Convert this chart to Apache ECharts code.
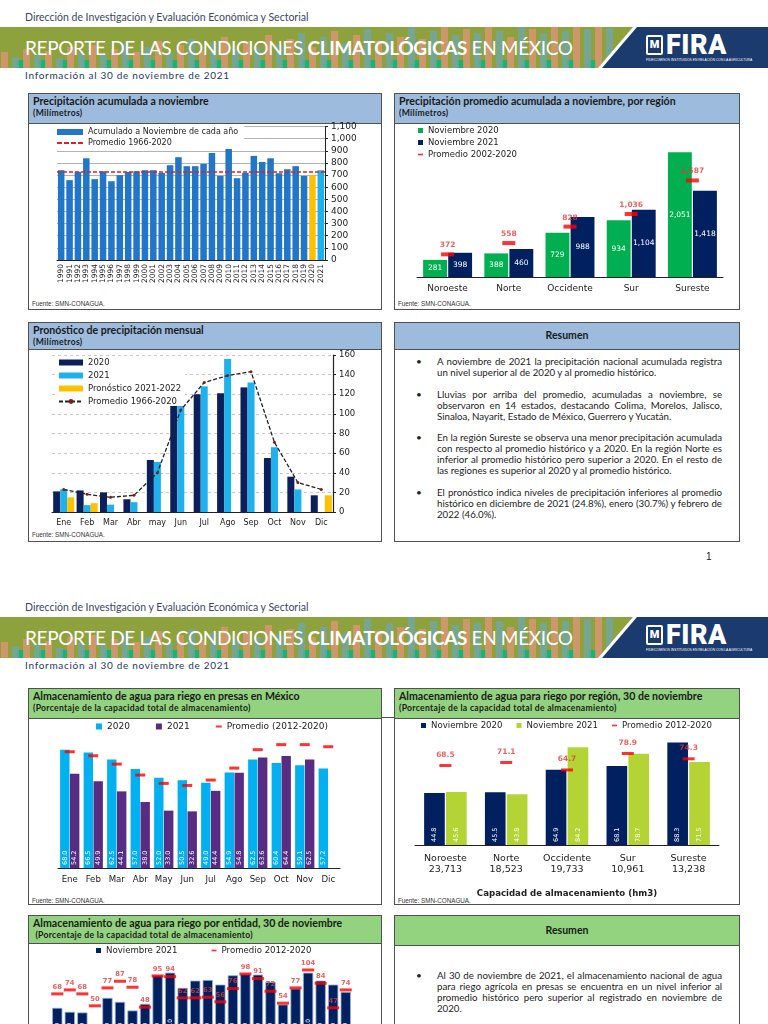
<!DOCTYPE html>
<html><head><meta charset="utf-8">
<script src="https://cdn.jsdelivr.net/npm/echarts@6/dist/echarts.min.js"></script>
<style>
html,body{margin:0;padding:0;width:768px;height:1024px;overflow:hidden;background:#fff;font-family:Lato,"Open Sans",sans-serif;color:#1a1a1a;}
.a{position:absolute;}
.dir{position:absolute;left:25px;font-size:10.5px;line-height:14px;color:#3b4763;white-space:nowrap;}
.info{position:absolute;left:25px;font-size:10px;line-height:13px;color:#1F3864;letter-spacing:0.7px;white-space:nowrap;}
.banner{position:absolute;left:0;width:768px;height:41px;background:#8DA13C;overflow:hidden;}
.btitle{position:absolute;left:25px;top:0;line-height:41px;font-size:19px;color:#fff;white-space:nowrap;letter-spacing:-0.35px;}
.panel{position:absolute;box-sizing:border-box;border:1.5px solid #505050;background:#fff;}
.ph{position:absolute;left:0;top:0;right:0;box-sizing:border-box;border-bottom:1.2px solid #505050;}
.blue{background:#9CBBDD;}
.green{background:#93D27F;}
.pt{position:absolute;left:4px;top:1px;font-size:10.6px;font-weight:bold;line-height:13px;white-space:nowrap;}
.ps{position:absolute;left:4px;top:14px;font-size:8.6px;font-weight:bold;line-height:11px;white-space:nowrap;letter-spacing:0.3px;}
.rt{position:absolute;left:0;right:0;text-align:center;font-size:10.5px;font-weight:bold;}
.fuente{position:absolute;font-family:"Liberation Sans",Arial,sans-serif;font-size:6.3px;color:#333;white-space:nowrap;}
.res{position:absolute;width:285px;}
.res ul{list-style:none;margin:0;padding:0;}
.res li{position:relative;margin:0 0 10.5px 0;text-align:justify;font-size:9.7px;line-height:11px;color:#222;}
.res li::before{content:'•';position:absolute;left:-21px;top:0;font-size:10px;}
.chart{position:absolute;}
</style>
</head><body>
<script>
// ---------------- DATA ----------------
const years = ['1990','1991','1992','1993','1994','1995','1996','1997','1998','1999','2000','2001','2002','2003','2004','2005','2006','2007','2008','2009','2010','2011','2012','2013','2014','2015','2016','2017','2018','2019','2020','2021'];
const acumNov = [740,658,726,838,666,731,649,699,726,731,740,740,718,781,847,773,773,792,882,693,951,674,718,858,808,838,715,748,773,693,699,740];
const promedio1966 = 731;

const regiones = ['Noroeste','Norte','Occidente','Sur','Sureste'];
const prec2020 = [281,388,729,934,2051];
const prec2021 = [398,460,988,1104,1418];
const prom0220 = [372,558,828,1036,1587];

const meses = ['Ene','Feb','Mar','Abr','may','Jun','Jul','Ago','Sep','Oct','Nov','Dic'];
const mens2020 = [21,22,20,13,53,108,120,121,127,55,36,17];
const mens2021 = [23,7,7.5,10,51,136,128,156,132,66,23,null];
const pronostico = [15,9,null,null,null,null,null,null,null,null,null,17];
const promMens = [23,18,15,17,40,104,132,139,143,71,30,23];

const mesesAlm = ['Ene','Feb','Mar','Abr','May','Jun','Jul','Ago','Sep','Oct','Nov','Dic'];
const alm2020 = [68.0,66.5,62.5,57.0,52.0,50.5,49.0,54.9,62.5,60.4,59.1,57.2];
const alm2021 = [54.2,49.9,44.1,38.0,33.0,32.6,44.4,54.8,63.6,64.4,62.5,null];
const almProm = [66.9,64.6,59.8,53.5,48.7,47.5,50.6,57.5,68.1,71.0,71.0,69.8];

const regionesAlm = ['Noroeste','Norte','Occidente','Sur','Sureste'];
const capacidad = ['23,713','18,523','19,733','10,961','13,238'];
const almReg2020 = [44.8,45.5,64.9,68.1,88.3];
const almReg2021 = [45.6,43.8,84.2,78.7,71.5];
const almRegProm = [68.5,71.1,64.7,78.9,74.3];

const entidades = ['Ags','BC','BCS','Camp','Chih','Coah','Col','Dgo','Gto','Gro','Hgo','Jal','Méx','Mich','Mor','Nay','NL','Oax','Pue','Qro','SLP','Sin','Son','Tamps'];
const ent2021 = [47,41,40,18,62,56,43,53,96,100,77,88,89,82,96,98,97,86,52,76,100,88,82,71];
const entProm = [68,74,68,50,77,87,78,48,95,94,62,62,63,56,76,98,91,72,54,77,104,84,47,74];

// decorative banner pattern (not chart data)
const decoH = [16,11,19,13,17,10,21,15,23,13,19,25,16,21,27,15,23,29,17,25,31,19,27,21,33,23,29,35,21,31,37,25,33,39,27,35,31,41,29,37,41,33,39,35,41,37,31,41,39,35,41,37,41,39,41,40];
</script>

<script>
function el(tag, cls, css, html){const e=document.createElement(tag); if(cls) e.className=cls; if(css) Object.assign(e.style,css); if(html!==undefined) e.innerHTML=html; document.body.appendChild(e); return e;}
function header(bt){
  el('div','dir',{top:(bt-17)+'px'},'Dirección de Investigación y Evaluación Económica y Sectorial');
  const b = el('div','banner',{top:bt+'px'});
  const cols=['#E8937C','#6CA7B6'];
  decoH.forEach((h,i)=>{
    const d=document.createElement('div');
    Object.assign(d.style,{position:'absolute',left:(i*11+1)+'px',bottom:'0px',width:'7px',height:h+'px',background:cols[i%2],opacity:'0.7'});
    b.appendChild(d);
    if(i%2===0){const g=document.createElement('div');Object.assign(g.style,{position:'absolute',left:(i*11+17)+'px',bottom:'0px',width:'7px',height:'8px',background:'#1DB36B'});b.appendChild(g);}
  });
  const t=document.createElement('div'); t.className='btitle';
  t.innerHTML='REPORTE DE LAS CONDICIONES <b>CLIMATOLÓGICAS</b> EN MÉXICO';
  b.appendChild(t);
  const w=document.createElement('div');
  Object.assign(w.style,{position:'absolute',left:'0',top:'0',width:'768px',height:'41px',background:'#ffffff',clipPath:'polygon(633px 0,768px 0,768px 41px,598px 41px)'});
  b.appendChild(w);
  const n=document.createElement('div');
  Object.assign(n.style,{position:'absolute',left:'0',top:'0',width:'768px',height:'41px',background:'#1B3A6D',clipPath:'polygon(637px 0,768px 0,768px 41px,602px 41px)'});
  b.appendChild(n);
  const ic=document.createElement('div');
  Object.assign(ic.style,{position:'absolute',left:'646px',top:'8px',width:'17px',height:'20px',border:'2px solid #fff',boxSizing:'border-box',borderRadius:'2px',color:'#fff',fontSize:'11px',fontWeight:'900',lineHeight:'15px',textAlign:'center',fontFamily:'Roboto,Arial'});
  ic.textContent='M'; b.appendChild(ic);
  const f=document.createElement('div');
  Object.assign(f.style,{position:'absolute',left:'666px',top:'3px',color:'#fff',fontSize:'27px',fontWeight:'900',lineHeight:'30px',fontFamily:'Roboto,"Liberation Sans",Arial',letterSpacing:'0.5px'});
  f.textContent='FIRA'; b.appendChild(f);
  const s=document.createElement('div');
  Object.assign(s.style,{position:'absolute',left:'646px',top:'31px',color:'#fff',fontSize:'3.3px',lineHeight:'4px',whiteSpace:'nowrap',fontFamily:'Arial'});
  s.textContent='FIDEICOMISOS INSTITUIDOS EN RELACIÓN CON LA AGRICULTURA'; b.appendChild(s);
  el('div','info',{top:(bt+42)+'px'},'Información al 30 de noviembre de 2021');
}
function panel(x,y,w,h,hh,color,title,sub){
  const p=el('div','panel',{left:x+'px',top:y+'px',width:w+'px',height:h+'px'});
  const ph=document.createElement('div'); ph.className='ph '+color; ph.style.height=hh+'px';
  if(sub!==undefined){ph.innerHTML='<div class="pt">'+title+'</div><div class="ps">'+sub+'</div>';}
  else {ph.innerHTML='<div class="rt" style="line-height:'+(hh-2)+'px">'+title+'</div>';}
  p.appendChild(ph);
  return p;
}
header(27);
header(617);
panel(28,93,354,217,30,'blue','Precipitación acumulada a noviembre','(Milímetros)');
panel(394,93,346,217,30,'blue','Precipitación promedio acumulada a noviembre, por región','(Milímetros)');
panel(28,322,354,220,27,'blue','Pronóstico de precipitación mensual','(Milímetros)');
panel(394,322,346,220,27,'blue','Resumen');
panel(28,688,354,217,30,'green','Almacenamiento de agua para riego en presas en México','(Porcentaje de la capacidad total de almacenamiento)');
panel(394,688,346,217,30,'green','Almacenamiento de agua para riego por región, 30 de noviembre','(Porcentaje de la capacidad total de almacenamiento)');
panel(28,915,354,200,28,'green','Almacenamiento de agua para riego por entidad, 30 de noviembre','&nbsp;(Porcentaje de la capacidad total de almacenamiento)');
panel(394,915,346,200,30,'green','Resumen');
el('div','a',{left:'382px',top:'717px',width:'12px',height:'1px',background:'#505050'});

el('div','fuente',{left:'32px',top:'300px'},'Fuente: SMN-CONAGUA.');
el('div','fuente',{left:'398px',top:'300px'},'Fuente: SMN-CONAGUA.');
el('div','fuente',{left:'32px',top:'531px'},'Fuente: SMN-CONAGUA.');
el('div','fuente',{left:'32px',top:'897px'},'Fuente: SMN-CONAGUA.');
el('div','fuente',{left:'398px',top:'897px'},'Fuente: SMN-CONAGUA.');
el('div','a',{left:'706px',top:'551px',fontSize:'10px',fontFamily:'"Liberation Sans",Arial'},'1');

el('div','res',{left:'437px',top:'356px'},'<ul>'+
'<li>A noviembre de 2021 la precipitación nacional acumulada registra un nivel superior al de 2020 y al promedio histórico.</li>'+
'<li>Lluvias por arriba del promedio, acumuladas a noviembre, se observaron en 14 estados, destacando Colima, Morelos, Jalisco, Sinaloa, Nayarit, Estado de México, Guerrero y Yucatán.</li>'+
'<li>En la región Sureste se observa una menor precipitación acumulada con respecto al promedio histórico y a 2020. En la región Norte es inferior al promedio histórico pero superior a 2020. En el resto de las regiones es superior al 2020 y al promedio histórico.</li>'+
'<li>El pronóstico indica niveles de precipitación inferiores al promedio histórico en diciembre de 2021 (24.8%), enero (30.7%) y febrero de 2022 (46.0%).</li></ul>');
el('div','res',{left:'437px',top:'970px'},'<ul>'+
'<li>Al 30 de noviembre de 2021, el almacenamiento nacional de agua para riego agrícola en presas se encuentra en un nivel inferior al promedio histórico pero superior al registrado en noviembre de 2020.</li>'+
'<li>En la región Occidente se registra el mayor nivel de almacenamiento, con 84.2% de su capacidad.</li></ul>');

function chartDiv(x,y,w,h){return el('div','chart',{left:x+'px',top:y+'px',width:w+'px',height:h+'px'});}
const FF='DejaVu Sans';
const fmtC = v => (v==null?'':Number(v).toLocaleString('en-US'));
const dashIcon='path://M0,0h5v2h-5z M7,0h5v2h-5z M14,0h5v2h-5z M21,0h5v2h-5z';
const redDash='path://M0,0h9v3h-9z';

// ---- Chart A ----
echarts.init(chartDiv(28,122,354,188)).setOption({
  animation:false,
  grid:{left:29,right:57,top:4,bottom:50},
  legend:{orient:'vertical',left:29,top:4,itemGap:3,backgroundColor:'#fff',padding:[2,6,2,0],
    textStyle:{fontFamily:FF,fontSize:8,color:'#222'},itemWidth:26,itemHeight:6,
    data:[{name:'Acumulado a Noviembre de cada año',icon:'rect',itemStyle:{color:'#2176C7'}},
          {name:'Promedio 1966-2020',icon:dashIcon,itemStyle:{color:'#E02020'}}]},
  xAxis:{type:'category',data:years,axisLine:{lineStyle:{color:'#222'}},axisTick:{length:3,interval:0,lineStyle:{color:'#222'}},
    axisLabel:{rotate:90,interval:0,fontFamily:FF,fontSize:7.5,color:'#222',margin:4}},
  yAxis:{type:'value',position:'right',min:0,max:1100,interval:100,
    axisLine:{show:true,lineStyle:{color:'#222'}},axisTick:{show:true,length:3,lineStyle:{color:'#222'}},
    axisLabel:{fontFamily:FF,fontSize:9,color:'#222',margin:6,formatter:fmtC},
    splitLine:{lineStyle:{color:'#b3b3b3'}}},
  series:[
    {type:'bar',name:'Acumulado a Noviembre de cada año',barCategoryGap:'22%',
     data:acumNov.map((v,i)=>({value:v,itemStyle:{color:years[i]==='2020'?'#FFC000':(years[i]==='2021'?'#1FB1EC':'#2176C7')}})),
     markLine:{silent:true,symbol:'none',label:{show:false},lineStyle:{type:[4,2],color:'#E02020',width:1.5},data:[{yAxis:promedio1966}]}},
    {type:'line',name:'Promedio 1966-2020',data:[],itemStyle:{color:'#E02020'}}
  ]
});

// ---- Chart B ----
echarts.init(chartDiv(394,122,346,188)).setOption({
  animation:false,
  grid:{left:23,right:17,top:9,bottom:33},
  legend:{orient:'vertical',left:24,top:4,itemGap:3,itemWidth:5,itemHeight:5,padding:0,
    textStyle:{fontFamily:FF,fontSize:8.5,color:'#222'},
    data:[{name:'Noviembre 2020',icon:'rect'},{name:'Noviembre 2021',icon:'rect'},{name:'Promedio 2002-2020',icon:redDash}]},
  xAxis:{type:'category',data:regiones,axisLine:{lineStyle:{color:'#222'}},axisTick:{length:3,lineStyle:{color:'#222'}},
    axisLabel:{interval:0,fontFamily:FF,fontSize:9,color:'#222',margin:7}},
  yAxis:{type:'value',min:0,max:2400,show:false,splitLine:{show:false}},
  series:[
    {type:'bar',name:'Noviembre 2020',data:prec2020,barGap:'5%',barCategoryGap:'20%',itemStyle:{color:'#00B050'},
     label:{show:true,position:'inside',color:'#fff',fontFamily:FF,fontSize:7.5,formatter:p=>fmtC(p.value)}},
    {type:'bar',name:'Noviembre 2021',data:prec2021,itemStyle:{color:'#002060'},
     label:{show:true,position:'inside',color:'#fff',fontFamily:FF,fontSize:7.5,formatter:p=>fmtC(p.value)}},
    {type:'scatter',name:'Promedio 2002-2020',data:prom0220,symbol:'rect',symbolSize:[13,4],itemStyle:{color:'#FF0000'},z:5,
     label:{show:true,position:'top',distance:3,color:'#E23A3A',fontWeight:'bold',fontFamily:FF,fontSize:7.5,formatter:p=>fmtC(p.value)}}
  ]
});

// ---- Chart C ----
echarts.init(chartDiv(28,349,354,193)).setOption({
  animation:false,
  grid:{left:24,right:49,top:6,bottom:30},
  legend:{orient:'vertical',left:30,top:9,itemGap:4,itemWidth:24,itemHeight:6,padding:[0,4,0,0],backgroundColor:'#fff',
    textStyle:{fontFamily:FF,fontSize:8.5,color:'#222'},
    data:[{name:'2020',icon:'rect'},{name:'2021',icon:'rect'},{name:'Pronóstico 2021-2022',icon:'rect'},{name:'Promedio 1966-2020'}]},
  xAxis:{type:'category',data:meses,axisLine:{lineStyle:{color:'#222',width:1.2}},axisTick:{length:3,lineStyle:{color:'#222'}},
    axisLabel:{interval:0,fontFamily:FF,fontSize:8,color:'#222',margin:7}},
  yAxis:{type:'value',position:'right',min:0,max:160,interval:20,
    axisLine:{show:true,lineStyle:{color:'#222',width:1.2}},axisTick:{show:true,length:3,lineStyle:{color:'#222'}},
    axisLabel:{fontFamily:FF,fontSize:8.5,color:'#222',margin:6},
    splitLine:{lineStyle:{color:'#c8c8c8',type:[3,3]}}},
  series:[
    {type:'bar',name:'2020',data:mens2020,barGap:'0%',barCategoryGap:'10%',itemStyle:{color:'#0B1F5C'}},
    {type:'bar',name:'2021',data:mens2021,itemStyle:{color:'#1FB1EC'}},
    {type:'bar',name:'Pronóstico 2021-2022',data:pronostico,itemStyle:{color:'#FFC000'}},
    {type:'line',name:'Promedio 1966-2020',data:promMens,symbol:'circle',symbolSize:3,z:6,
     itemStyle:{color:'#7B1E1E'},lineStyle:{color:'#222',width:1.3,type:[4,2]}}
  ]
});

// ---- Chart E ----
const rotLbl = (fs)=>({show:true,position:'insideBottom',rotate:90,align:'left',verticalAlign:'middle',distance:3,color:'#fff',fontFamily:FF,fontSize:fs,formatter:p=>p.value==null?'':Number(p.value).toFixed(1)});
echarts.init(chartDiv(28,718,354,187)).setOption({
  animation:false,
  grid:{left:30,right:42,top:11,bottom:37},
  legend:{left:68,top:4,itemGap:26,itemWidth:6,itemHeight:6,padding:0,
    textStyle:{fontFamily:FF,fontSize:9,color:'#222'},
    data:[{name:'2020',icon:'rect'},{name:'2021',icon:'rect'},{name:'Promedio (2012-2020)',icon:redDash}]},
  xAxis:{type:'category',data:mesesAlm,axisLine:{lineStyle:{color:'#222'}},axisTick:{length:3,lineStyle:{color:'#222'}},
    axisLabel:{interval:0,fontFamily:FF,fontSize:8.6,color:'#222',margin:7}},
  yAxis:{type:'value',min:0,max:80,show:false,splitLine:{show:false}},
  series:[
    {type:'bar',name:'2020',data:alm2020,barGap:'5%',barCategoryGap:'18%',itemStyle:{color:'#00B0F0'},label:rotLbl(6.5)},
    {type:'bar',name:'2021',data:alm2021,itemStyle:{color:'#582C83'},label:rotLbl(6.5)},
    {type:'scatter',name:'Promedio (2012-2020)',data:almProm,symbol:'rect',symbolSize:[10,3],itemStyle:{color:'#FF0000'},z:5}
  ]
});

// ---- Chart F ----
echarts.init(chartDiv(394,718,346,187)).setOption({
  animation:false,
  grid:{left:21,right:21,top:11,bottom:60},
  legend:{left:27,top:3,itemGap:14,itemWidth:5,itemHeight:5,padding:0,
    textStyle:{fontFamily:FF,fontSize:8.6,color:'#222'},
    data:[{name:'Noviembre 2020',icon:'rect'},{name:'Noviembre 2021',icon:'rect'},{name:'Promedio 2012-2020',icon:redDash}]},
  xAxis:{type:'category',data:regionesAlm.map((r,i)=>r+'\n'+capacidad[i]),
    axisLine:{lineStyle:{color:'#222'}},axisTick:{show:false},
    axisLabel:{interval:0,fontFamily:FF,fontSize:9.5,lineHeight:11,color:'#222',margin:8},
    name:'Capacidad de almacenamiento (hm3)',nameLocation:'middle',nameGap:44,
    nameTextStyle:{fontFamily:FF,fontSize:8.6,fontWeight:'bold',color:'#222'}},
  yAxis:{type:'value',min:0,max:100,show:false,splitLine:{show:false}},
  series:[
    {type:'bar',name:'Noviembre 2020',data:almReg2020,barGap:'6%',barCategoryGap:'30%',itemStyle:{color:'#002060'},label:rotLbl(6.5)},
    {type:'bar',name:'Noviembre 2021',data:almReg2021,itemStyle:{color:'#B4D334'},label:rotLbl(6.5)},
    {type:'scatter',name:'Promedio 2012-2020',data:almRegProm,symbol:'rect',symbolSize:[12,3],itemStyle:{color:'#FF0000'},z:5,
     label:{show:true,position:'top',distance:5,color:'#E23A3A',fontWeight:'bold',fontFamily:FF,fontSize:7.5,formatter:p=>Number(p.value).toFixed(1)}}
  ]
});

// ---- Chart G ----
echarts.init(chartDiv(28,943,354,150)).setOption({
  animation:false,
  grid:{left:23,right:30,top:23,bottom:54},
  legend:{left:68,top:3,itemGap:34,itemWidth:5,itemHeight:5,padding:0,
    textStyle:{fontFamily:FF,fontSize:8.6,color:'#222'},
    data:[{name:'Noviembre 2021',icon:'rect',itemStyle:{color:'#002060',borderWidth:0}},{name:'Promedio 2012-2020',icon:redDash}]},
  xAxis:{type:'category',data:entidades,axisLine:{lineStyle:{color:'#222'}},axisTick:{show:false},
    axisLabel:{interval:0,rotate:90,fontFamily:FF,fontSize:7,color:'#222'}},
  yAxis:{type:'value',min:0,max:110,show:false,splitLine:{show:false}},
  series:[
    {type:'bar',name:'Noviembre 2021',data:ent2021,barCategoryGap:'18%',itemStyle:{color:'#002060',borderColor:'#9BB2DA',borderWidth:0.8},label:rotLbl(6)},
    {type:'scatter',name:'Promedio 2012-2020',data:entProm,symbol:'rect',symbolSize:[12,3],itemStyle:{color:'#FF0000'},z:5,
     label:{show:true,position:'top',distance:2,color:'#E23A3A',fontWeight:'bold',fontFamily:FF,fontSize:6.8}}
  ]
});
</script>
</body></html>
